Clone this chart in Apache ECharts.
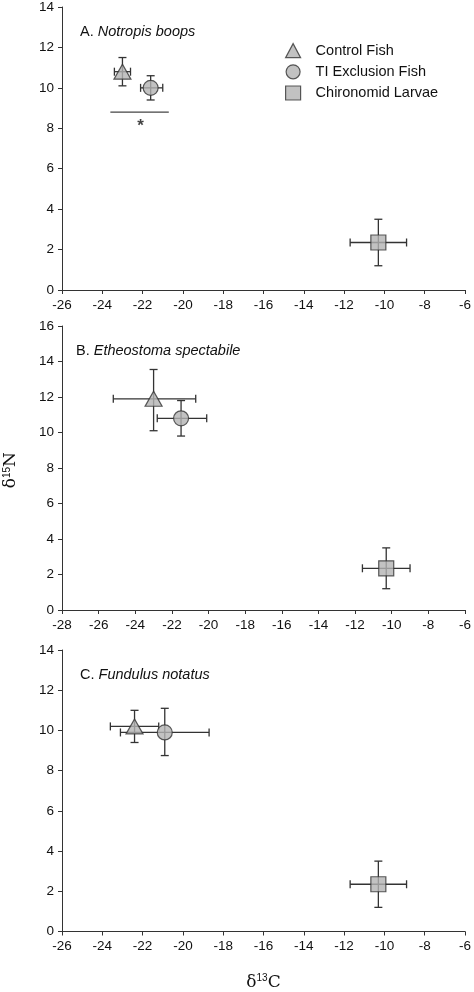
<!DOCTYPE html>
<html>
<head>
<meta charset="utf-8">
<script src="https://cdn.jsdelivr.net/npm/echarts@6/dist/echarts.min.js"></script>
<style>html,body{margin:0;padding:0;background:#fff}#chart{width:474px;height:992px}</style>
</head>
<body>
<div id="chart"></div>
<script>
// each point: [x, y, xLow, xHigh, yLow, yHigh]
const panelTitles = [['A. ', 'Notropis boops'], ['B. ', 'Etheostoma spectabile'], ['C. ', 'Fundulus notatus']];
const seriesNames = ['Control Fish', 'TI Exclusion Fish', 'Chironomid Larvae'];
const seriesSymbols = ['triangle', 'circle', 'rect'];
const panelA = [
  [-23.0, 10.8, -23.4, -22.6, 10.1, 11.5],
  [-21.6, 10.0, -22.1, -21.0, 9.4, 10.6],
  [-10.3, 2.35, -11.7, -8.9, 1.2, 3.5]
];
const panelB = [
  [-23.0, 11.9, -25.2, -20.7, 10.1, 13.55],
  [-21.5, 10.8, -22.8, -20.1, 9.8, 11.8],
  [-10.3, 2.35, -11.6, -9.0, 1.2, 3.5]
];
const panelC = [
  [-22.4, 10.2, -23.6, -21.2, 9.4, 11.0],
  [-20.9, 9.9, -23.1, -18.7, 8.75, 11.1],
  [-10.3, 2.35, -11.7, -8.9, 1.2, 3.5]
];
const panels = [panelA, panelB, panelC];
const xMins = [-26, -28, -26];
const yMaxs = [14, 16, 14];
const sigLine = [[-23.6, 8.8], [-20.7, 8.8]];
const sigStar = [-22.1, 8.1];

const font = 'Liberation Sans, Arial, sans-serif';
const dark = '#333';
const fill = '#b3b3b3';
const tops = [6, 326, 650];
const heights = [284, 284, 283];

const grids = tops.map((t, i) => ({left: 62, width: 405, top: t, height: heights[i]}));
const xAxes = xMins.map((m, i) => ({
  type: 'value', gridIndex: i, min: m, max: -6, interval: 2,
  axisLine: {lineStyle: {color: dark}}, axisTick: {inside: false, length: 4, lineStyle: {color: dark}},
  splitLine: {show: false},
  axisLabel: {color: '#111', fontFamily: font, fontSize: 13.5, margin: 8, showMaxLabel: true},
  name: i === 2 ? '{d|δ}{s|13}{d|C}' : '', nameLocation: 'middle', nameGap: 42,
  nameTextStyle: {rich: {d: {fontSize: 17, fontFamily: 'DejaVu Serif', color: '#111'}, s: {fontSize: 10, verticalAlign: 'top', color: '#111', padding: [0, 0, 8, 0]}}}
}));
const yAxes = yMaxs.map((m, i) => ({
  type: 'value', gridIndex: i, min: 0, max: m, interval: 2,
  axisLine: {show: true, lineStyle: {color: dark}}, axisTick: {show: true, length: 4, lineStyle: {color: dark}},
  splitLine: {show: false},
  axisLabel: {color: '#111', fontFamily: font, fontSize: 13.5, margin: 8}
}));

function errorRender(params, api) {
  const x = api.value(0), y = api.value(1);
  const l = api.coord([api.value(2), y]), r = api.coord([api.value(3), y]);
  const b = api.coord([x, api.value(4)]), t = api.coord([x, api.value(5)]);
  const c = 4;
  const st = {stroke: dark, lineWidth: 1.3};
  const seg = (x1, y1, x2, y2) => ({type: 'line', shape: {x1, y1, x2, y2}, style: st});
  return {type: 'group', children: [
    seg(l[0], l[1], r[0], r[1]), seg(l[0], l[1] - c, l[0], l[1] + c), seg(r[0], r[1] - c, r[0], r[1] + c),
    seg(b[0], b[1], t[0], t[1]), seg(b[0] - c, b[1], b[0] + c, b[1]), seg(t[0] - c, t[1], t[0] + c, t[1])
  ]};
}

const series = [];
panels.forEach((pts, p) => {
  series.push({type: 'custom', xAxisIndex: p, yAxisIndex: p, renderItem: errorRender, data: pts, z: 1, silent: true});
  pts.forEach((pt, s) => {
    series.push({
      type: 'scatter', name: seriesNames[s], xAxisIndex: p, yAxisIndex: p, z: 3,
      symbol: seriesSymbols[s], symbolSize: s === 0 ? [17, 15] : 15,
      itemStyle: {color: fill, borderColor: dark, borderWidth: 1.2},
      data: [[pt[0], pt[1]]]
    });
  });
});
series.push({
  type: 'line', xAxisIndex: 0, yAxisIndex: 0, data: sigLine, symbol: 'none',
  lineStyle: {color: '#444', width: 1.2}, silent: true
});
series.push({
  type: 'scatter', xAxisIndex: 0, yAxisIndex: 0, data: [sigStar], symbolSize: 0, silent: true,
  label: {show: true, formatter: '*', position: 'inside', fontSize: 17, fontWeight: 'bold', color: '#111', fontFamily: font}
});

const titleY = [33, 352, 676];
const graphics = panelTitles.map((t, i) => ({
  type: 'text', left: i === 1 ? 76 : 80, top: titleY[i] - 9,
  style: {text: '{a|' + t[0] + '}{b|' + t[1] + '}', rich: {a: {fontSize: 14.5, fontFamily: font, fill: '#111'}, b: {fontSize: 14.5, fontFamily: font, fontStyle: 'italic', fill: '#111'}}}
}));
graphics.push({
  type: 'text', left: 2, top: 452, rotation: Math.PI / 2,
  style: {text: '{d|δ}{s|15}{d|N}', rich: {d: {fontSize: 17, fontFamily: 'DejaVu Serif', fill: '#111'}, s: {fontSize: 10, fill: '#111', padding: [0, 0, 8, 0]}}}
});

const chart = echarts.init(document.getElementById('chart'));
chart.setOption({
  animation: false,
  grid: grids, xAxis: xAxes, yAxis: yAxes, series: series, graphic: graphics,
  legend: {
    data: seriesNames.map((n, i) => ({name: n, icon: seriesSymbols[i]})),
    orient: 'vertical', left: 280, top: 38, itemWidth: 15, itemHeight: 14, itemGap: 6,
    textStyle: {fontFamily: font, fontSize: 14.5, color: '#111', padding: [0, 0, 0, 10]},
    itemStyle: {color: fill, borderColor: dark, borderWidth: 1.2}, selectedMode: false
  }
});
</script>
</body>
</html>
